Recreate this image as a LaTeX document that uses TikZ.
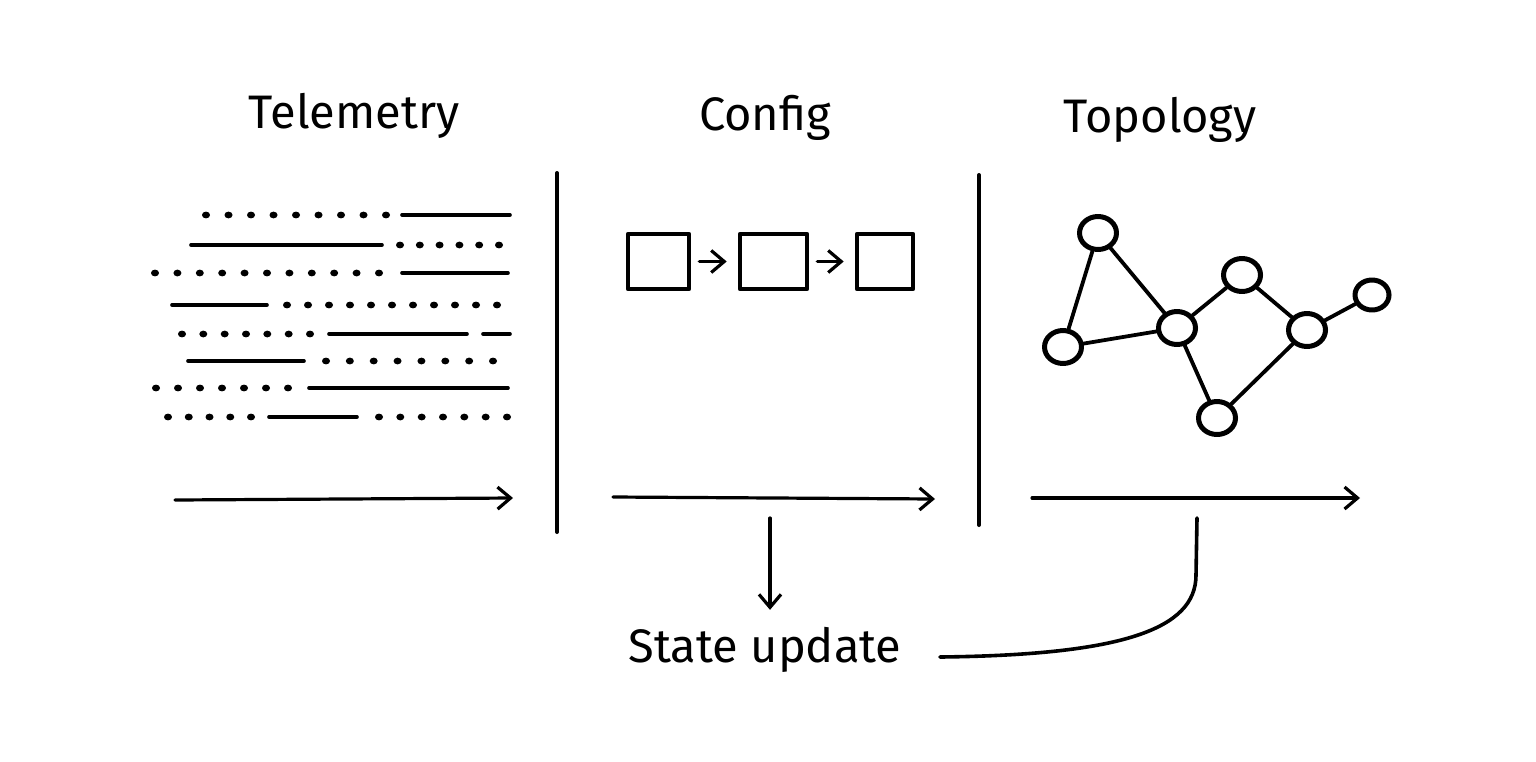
\documentclass[tikz,border=0pt]{standalone}
\usepackage{fontspec}
\setmainfont{Fira Sans}
\usetikzlibrary{arrows.meta,shapes.geometric}

\begin{document}
\begin{tikzpicture}[x=1pt,y=-1pt,line cap=round,line join=round,
		title/.style={font=\fontsize{47}{56}\selectfont},
		stroke/.style={line width=3.6pt},
		flow/.style={line width=3.2pt,-{Straight Barb[length=13pt,width=22pt]}},
		cfgbox/.style={draw,line width=4.6pt,minimum height=55pt,inner sep=0pt},
		vertex/.style={draw,ellipse,line width=5pt,minimum width=37pt,minimum height=33pt,inner sep=0pt},
		link/.style={line width=3.8pt}]
				\useasboundingbox (0,0) rectangle (1536,761);

				\node[title] (tele) at (354,116) {Telemetry};
				\node[title] (conf) at (765,118) {Config};
				\node[title] (topo) at (1160,120) {Topology};
				\node[title] (state) at (765,650) {State update};

				% dividers
				\coordinate (d1top) at (557,173);
				\coordinate (d1bot) at (557,532);
				\coordinate (d2top) at (979,175);
				\coordinate (d2bot) at (979,525);
				\draw[line width=4pt] (d1top) -- (d1bot);
				\draw[line width=4pt] (d2top) -- (d2bot);

				% telemetry streams
				\foreach \y/\a/\b/\n in {215/206/386/9, 245/400/499/6, 273/155/379/11, 305/287/497/11,
						334/182/310/7, 361/326/493/8, 388/156/288/7, 417/168/251/5, 417/379/507/7}
					\foreach \k in {1,...,\n}
						\fill ({\a+(\k-1)*(\b-\a)/(\n-1)},\y) ellipse (4pt and 3.4pt);
				\foreach \y/\a/\b in {215/402/510, 245/191/382, 273/402/508, 305/172/267, 334/329/467,
						334/483/510, 361/188/304, 388/309/508, 417/269/357}
					\draw[stroke] (\a,\y) -- (\b,\y);

				% config chain
				\node[cfgbox,minimum width=61pt] (b1) at (658.5,261.5) {};
				\node[cfgbox,minimum width=67pt] (b2) at (773.5,261.5) {};
				\node[cfgbox,minimum width=56pt] (b3) at (885,261.5) {};
				\path [flow,shorten <=8pt,shorten >=11pt] (b1) edge (b2);
				\path [flow,shorten <=8pt,shorten >=11pt] (b2) edge (b3);

				% topology graph
				\node[vertex] (n1) at (1098,233) {};
				\node[vertex] (n2) at (1063,347) {};
				\node[vertex] (n3) at (1177,328) {};
				\node[vertex] (n4) at (1242,275) {};
				\node[vertex] (n5) at (1307,330) {};
				\node[vertex,minimum width=34pt,minimum height=30pt] (n6) at (1372,295) {};
				\node[vertex] (n7) at (1217,418) {};
				\path [link] (n1) edge (n2);
				\path [link] (n1) edge (n3);
				\path [link] (n2) edge (n3);
				\path [link] (n3) edge (n4);
				\path [link] (n4) edge (n5);
				\path [link] (n5) edge (n6);
				\path [link] (n3) edge (n7);
				\path [link] (n7) edge (n5);

				% time axes
				\coordinate (t1a) at (175,500);
				\coordinate (t1b) at (513,498);
				\coordinate (t2a) at (613,497);
				\coordinate (t2b) at (935,499);
				\coordinate (t3a) at (1032,498);
				\coordinate (t3b) at (1360,498);
				\draw[flow] (t1a) -- (t1b);
				\draw[flow] (t2a) -- (t2b);
				\draw[flow] (t3a) -- (t3b);

				% into the state update
				\coordinate (down) at (770,518);
				\draw[flow,shorten >=14pt] (down) -- (down |- state.north);
				\coordinate (bend) at (1197,518);
				\coordinate (tail) at (940,657);
				\draw[stroke] (bend) -- (1196,575) .. controls (1196,630) and (1120,655) .. (tail);
\end{tikzpicture}
\end{document}
